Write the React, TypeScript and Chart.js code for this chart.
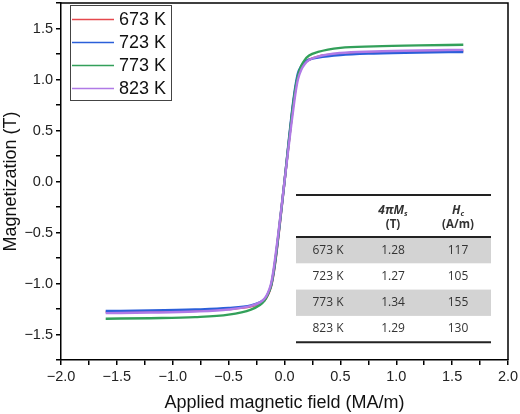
import React, { useEffect, useRef } from "react";
import { Chart, registerables } from "chart.js";

Chart.register(...registerables);

// Applied field (MA/m) shared by all loops
const fieldValues = [-1.6, -1.2, -0.8, -0.5, -0.3, -0.22, -0.18, -0.15, -0.12, -0.1, -0.08, -0.06, -0.04, -0.02, 0, 0.02, 0.04, 0.06, 0.08, 0.1, 0.12, 0.15, 0.18, 0.22, 0.3, 0.5, 0.8, 1.2, 1.6];

// Magnetization (T) for each annealing temperature
const m673 = [-1.28, -1.275, -1.265, -1.25, -1.225, -1.195, -1.165, -1.115, -1.03, -0.92, -0.77, -0.59, -0.4, -0.2, 0, 0.2, 0.4, 0.59, 0.77, 0.92, 1.03, 1.115, 1.165, 1.195, 1.225, 1.25, 1.265, 1.275, 1.28];
const m723 = [-1.27, -1.265, -1.255, -1.24, -1.215, -1.185, -1.155, -1.105, -1.02, -0.91, -0.76, -0.58, -0.39, -0.2, 0, 0.21, 0.42, 0.62, 0.8, 0.95, 1.06, 1.13, 1.17, 1.195, 1.215, 1.24, 1.255, 1.265, 1.27];
const m773 = [-1.345, -1.34, -1.33, -1.305, -1.255, -1.21, -1.17, -1.11, -1.02, -0.9, -0.75, -0.57, -0.38, -0.19, 0, 0.2, 0.4, 0.6, 0.78, 0.93, 1.04, 1.135, 1.19, 1.235, 1.27, 1.31, 1.325, 1.335, 1.34];
const m823 = [-1.29, -1.285, -1.275, -1.255, -1.22, -1.185, -1.15, -1.095, -1.0, -0.88, -0.72, -0.55, -0.37, -0.185, 0, 0.185, 0.37, 0.55, 0.72, 0.88, 1.0, 1.095, 1.15, 1.19, 1.225, 1.26, 1.275, 1.285, 1.29];

const seriesLabels = ["673 K", "723 K", "773 K", "823 K"];
const seriesValues = [m673, m723, m773, m823];
const seriesColors = ["#e5484d", "#2b5fd9", "#33a05a", "#b07ae6"];

// Summary table
const tableTemps = ["673 K", "723 K", "773 K", "823 K"];
const tableMs = ["1.28", "1.27", "1.34", "1.29"];
const tableHc = ["117", "105", "155", "130"];

const fmt = (v: number) => {
  const s = v.toFixed(1);
  return v < 0 ? "\u2212" + s.slice(1) : s;
};
const isMajor = (v: number) => Math.abs(v * 2 - Math.round(v * 2)) < 1e-6;

const framePlugin = {
  id: "frameLegendTable",
  afterDatasetsDraw(chart: any) {
    const { ctx, chartArea } = chart;
    const { left, right, top, bottom } = chartArea;
    ctx.save();

    // legend box
    const lx = 70, ly = 5, lw = 101, lh = 95;
    ctx.fillStyle = "#ffffff";
    ctx.fillRect(lx, ly, lw, lh);
    ctx.strokeStyle = "#444";
    ctx.lineWidth = 1;
    ctx.strokeRect(lx + 0.5, ly + 0.5, lw, lh);
    ctx.font = "18px 'Liberation Sans', Arial, sans-serif";
    ctx.textBaseline = "middle";
    ctx.textAlign = "left";
    seriesLabels.forEach((lab, i) => {
      const y = 19.5 + i * 23;
      ctx.strokeStyle = seriesColors[i];
      ctx.lineWidth = 1.5;
      ctx.beginPath();
      ctx.moveTo(72, y);
      ctx.lineTo(114, y);
      ctx.stroke();
      ctx.fillStyle = "#111";
      ctx.fillText(lab, 119, y + 1);
    });

    // table
    const tx0 = 296, tx1 = 491;
    const colX = [328, 393, 458];
    const headTop = 195, headBottom = 237, rowH = 26.3;
    tableTemps.forEach((_, i) => {
      if (i % 2 === 0) {
        ctx.fillStyle = "#d3d3d3";
        ctx.fillRect(tx0, headBottom + i * rowH, tx1 - tx0, rowH);
      }
    });
    ctx.strokeStyle = "#222";
    ctx.lineWidth = 2;
    [headTop, headBottom, headBottom + rowH * 4].forEach((y) => {
      ctx.beginPath();
      ctx.moveTo(tx0, y);
      ctx.lineTo(tx1, y);
      ctx.stroke();
    });

    const drawSub = (main: string, sub: string, cx: number, y: number) => {
      ctx.font = "italic bold 12px 'Open Sans', sans-serif";
      const w1 = ctx.measureText(main).width;
      ctx.font = "italic bold 7.5px 'Open Sans', sans-serif";
      const w2 = ctx.measureText(sub).width;
      const x0 = cx - (w1 + w2) / 2;
      ctx.textAlign = "left";
      ctx.font = "italic bold 12px 'Open Sans', sans-serif";
      ctx.fillText(main, x0, y);
      ctx.font = "italic bold 7.5px 'Open Sans', sans-serif";
      ctx.fillText(sub, x0 + w1, y + 3);
    };
    ctx.fillStyle = "#333";
    ctx.textBaseline = "middle";
    drawSub("4\u03C0M", "s", colX[1], 211);
    drawSub("H", "c", colX[2], 211);
    ctx.font = "bold 11.5px 'Open Sans', sans-serif";
    ctx.textAlign = "center";
    ctx.fillText("(T)", colX[1], 225);
    ctx.fillText("(A/m)", colX[2], 225);

    ctx.font = "12px 'Open Sans', sans-serif";
    tableTemps.forEach((t, i) => {
      const y = headBottom + i * rowH + rowH / 2;
      ctx.fillText(t, colX[0], y);
      ctx.fillText(tableMs[i], colX[1], y);
      ctx.fillText(tableHc[i], colX[2], y);
    });

    // top and right frame edges
    ctx.strokeStyle = "#000";
    ctx.lineWidth = 1.5;
    ctx.beginPath();
    ctx.moveTo(left, top);
    ctx.lineTo(right, top);
    ctx.lineTo(right, bottom);
    ctx.stroke();
    ctx.restore();
  },
};

export default function App() {
  const canvasRef = useRef<HTMLCanvasElement | null>(null);

  useEffect(() => {
    document.body.style.margin = "0";
    const canvas = canvasRef.current;
    if (!canvas) return;
    const tickFont = { family: "'Liberation Sans', Arial, sans-serif", size: 14.5 };
    const titleFont = { family: "'Liberation Sans', Arial, sans-serif", size: 18 };
    const chart = new Chart(canvas, {
      type: "line",
      data: {
        datasets: seriesLabels.map((lab, i) => ({
          label: lab,
          data: fieldValues.map((h, j) => ({ x: h, y: seriesValues[i][j] })),
          borderColor: seriesColors[i],
          backgroundColor: seriesColors[i],
          borderWidth: 2.4,
          pointRadius: 0,
          cubicInterpolationMode: "monotone" as const,
          fill: false,
          // later temperatures are drawn over earlier ones
          order: seriesLabels.length - 1 - i,
        })),
      },
      options: {
        responsive: false,
        animation: false,
        devicePixelRatio: 1,
        layout: { padding: { top: 3, right: 12, left: 0, bottom: 0 } },
        plugins: { legend: { display: false }, tooltip: { enabled: false } },
        scales: {
          x: {
            type: "linear",
            min: -2,
            max: 2,
            afterFit: (s: any) => {
              s.height = 54;
              s.paddingLeft = 0;
              s.paddingRight = 0;
            },
            ticks: {
              stepSize: 0.25,
              autoSkip: false,
              maxRotation: 0,
              color: "#222",
              font: tickFont,
              padding: 3,
              callback: (v: any) => (isMajor(Number(v)) ? fmt(Number(v)) : ""),
            },
            grid: { drawOnChartArea: false, drawTicks: true, tickLength: 5, color: "#000", lineWidth: 1.5 },
            border: { display: true, color: "#000", width: 1.5 },
            title: { display: true, text: "Applied magnetic field (MA/m)", color: "#111", font: titleFont, padding: { top: 3, bottom: 0 } },
          },
          y: {
            type: "linear",
            min: -1.75,
            max: 1.75,
            afterFit: (s: any) => {
              s.width = 61;
              s.paddingTop = 0;
              s.paddingBottom = 0;
            },
            ticks: {
              stepSize: 0.25,
              autoSkip: false,
              color: "#222",
              font: tickFont,
              padding: 3,
              callback: (v: any) => {
                const n = Number(v);
                return isMajor(n) && Math.abs(n) < 1.7 ? fmt(n) : "";
              },
            },
            grid: { drawOnChartArea: false, drawTicks: true, tickLength: 5, color: "#000", lineWidth: 1.5 },
            border: { display: true, color: "#000", width: 1.5 },
            title: { display: true, text: "Magnetization (T)", color: "#111", font: titleFont, padding: { top: 0, bottom: 0 } },
          },
        },
      },
      plugins: [framePlugin],
    });
    return () => chart.destroy();
  }, []);

  return (
    <div style={{ width: 520, height: 414, background: "#fff" }}>
      <canvas ref={canvasRef} width={520} height={414} />
    </div>
  );
}
